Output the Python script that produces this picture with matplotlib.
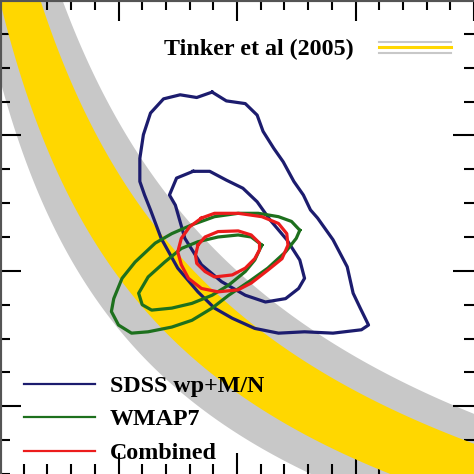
import numpy as np
import matplotlib.pyplot as plt
from matplotlib.ticker import MultipleLocator

# Tinker et al (2005): sigma8 (Om/0.3)^0.6 = 0.68 +/- 0.06 (1 sigma), 0.12 (2 sigma)
tinker_amp = 0.68
tinker_1sig = 0.06
tinker_2sig = 0.12
tinker_slope = 0.6
tinker_pivot = 0.3

# contour vertices (Omega_m, sigma_8)
sdss_outer_x = [0.279, 0.291, 0.307, 0.317, 0.322, 0.331, 0.339, 0.348, 0.356, 0.362,
                0.368, 0.381, 0.393, 0.398, 0.404, 0.411, 0.405, 0.381, 0.357, 0.335,
                0.315, 0.296, 0.281, 0.267, 0.250, 0.236, 0.227, 0.222, 0.218, 0.218,
                0.221, 0.227, 0.238, 0.252, 0.266]
sdss_outer_y = [1.064, 1.051, 1.047, 1.030, 1.006, 0.981, 0.961, 0.932, 0.912, 0.890,
                0.878, 0.846, 0.806, 0.767, 0.745, 0.720, 0.713, 0.708, 0.710, 0.708,
                0.715, 0.730, 0.745, 0.769, 0.804, 0.848, 0.890, 0.912, 0.932, 0.966,
                1.001, 1.033, 1.054, 1.060, 1.056]

sdss_inner_x = [0.263, 0.277, 0.291, 0.305, 0.317, 0.328, 0.342, 0.353, 0.357, 0.352,
                0.341, 0.324, 0.307, 0.287, 0.270, 0.256, 0.248, 0.243, 0.249]
sdss_inner_y = [0.947, 0.947, 0.934, 0.922, 0.902, 0.875, 0.846, 0.816, 0.789, 0.774,
                0.759, 0.754, 0.764, 0.784, 0.809, 0.848, 0.897, 0.912, 0.937]

wmap_outer_x = [0.353, 0.346, 0.335, 0.318, 0.301, 0.281, 0.262, 0.245, 0.231, 0.214,
                0.203, 0.196, 0.194, 0.200, 0.211, 0.225, 0.245, 0.262, 0.279, 0.293,
                0.310, 0.326, 0.341, 0.350]
wmap_outer_y = [0.860, 0.873, 0.880, 0.885, 0.885, 0.880, 0.868, 0.855, 0.841, 0.813,
                0.789, 0.759, 0.740, 0.720, 0.708, 0.710, 0.717, 0.727, 0.745, 0.764,
                0.784, 0.804, 0.828, 0.848]

wmap_inner_x = [0.321, 0.312, 0.301, 0.284, 0.267, 0.253, 0.239, 0.225, 0.217, 0.220,
                0.228, 0.245, 0.262, 0.279, 0.293, 0.307, 0.315, 0.319]
wmap_inner_y = [0.838, 0.850, 0.853, 0.850, 0.843, 0.833, 0.813, 0.791, 0.767, 0.750,
                0.742, 0.745, 0.752, 0.764, 0.779, 0.799, 0.816, 0.831]

comb_outer_x = [0.270, 0.281, 0.301, 0.321, 0.335, 0.342, 0.343, 0.338, 0.326, 0.312,
                0.301, 0.284, 0.270, 0.259, 0.253, 0.250, 0.253, 0.260]
comb_outer_y = [0.878, 0.885, 0.885, 0.880, 0.870, 0.855, 0.838, 0.818, 0.801, 0.782,
                0.772, 0.769, 0.774, 0.789, 0.809, 0.828, 0.848, 0.865]

comb_inner_x = [0.267, 0.273, 0.284, 0.301, 0.312, 0.319, 0.319, 0.315, 0.307, 0.296,
                0.281, 0.273, 0.266, 0.265]
comb_inner_y = [0.838, 0.850, 0.858, 0.859, 0.853, 0.841, 0.831, 0.818, 0.804, 0.794,
                0.791, 0.799, 0.811, 0.823]

labels = ['SDSS wp+M/N', 'WMAP7', 'Combined']
colors = ['#1c1c6e', '#1d701d', '#ec1c1c']

fig = plt.figure(figsize=(4.74, 4.74), dpi=100)
ax = fig.add_axes([0, 0, 1, 1])
ax.set_xlim(0.1, 0.5)
ax.set_ylim(0.5, 1.2)

# Tinker band
om = np.linspace(0.1, 0.5, 300)
scale = (om / tinker_pivot) ** (-tinker_slope)
ax.fill_between(om, (tinker_amp - tinker_2sig) * scale, (tinker_amp + tinker_2sig) * scale,
                color='#c8c8c8', lw=0, zorder=1)
ax.fill_between(om, (tinker_amp - tinker_1sig) * scale, (tinker_amp + tinker_1sig) * scale,
                color='#ffd700', lw=0, zorder=2)


def closed(xs, ys):
    return np.append(xs, xs[0]), np.append(ys, ys[0])


contours = [(sdss_outer_x, sdss_outer_y, 0), (sdss_inner_x, sdss_inner_y, 0),
            (wmap_outer_x, wmap_outer_y, 1), (wmap_inner_x, wmap_inner_y, 1),
            (comb_outer_x, comb_outer_y, 2), (comb_inner_x, comb_inner_y, 2)]
for xs, ys, k in contours:
    cx, cy = closed(xs, ys)
    ax.plot(cx, cy, color=colors[k], lw=2.3, solid_joinstyle='round', zorder=3 + k)

# legend, lower left
font = dict(family='Liberation Serif', weight='bold', size=17.3)
leg_y = [0.190, 0.120, 0.049]
for lab, c, yy in zip(labels, colors, leg_y):
    ax.plot([0.051, 0.200], [yy, yy], color=c, lw=1.6, transform=ax.transAxes, zorder=10)
    ax.text(0.232, yy, lab, transform=ax.transAxes, va='center_baseline', ha='left',
            zorder=10, **font)

# Tinker legend entry, top right
ax.text(0.745, 0.9, 'Tinker et al (2005)', transform=ax.transAxes, va='center_baseline',
        ha='right', zorder=10, **font)
ax.plot([0.800, 0.951], [0.911, 0.911], color='#c8c8c8', lw=1.5, transform=ax.transAxes)
ax.plot([0.800, 0.951], [0.889, 0.889], color='#c8c8c8', lw=1.5, transform=ax.transAxes)
ax.plot([0.800, 0.951], [0.900, 0.900], color='#ffd700', lw=2.2, transform=ax.transAxes)

# ticks and frame
ax.xaxis.set_major_locator(MultipleLocator(0.1))
ax.xaxis.set_minor_locator(MultipleLocator(0.02))
ax.yaxis.set_major_locator(MultipleLocator(0.2))
ax.yaxis.set_minor_locator(MultipleLocator(0.05))
ax.tick_params(which='both', direction='in', top=True, right=True,
               labelbottom=False, labelleft=False, width=1.5, color='black')
ax.tick_params(which='major', length=15)
ax.tick_params(which='minor', length=7.5)
for side in ['left', 'top']:
    ax.spines[side].set_linewidth(3)
    ax.spines[side].set_color('#555555')
for side in ['right', 'bottom']:
    ax.spines[side].set_visible(False)

fig.savefig('out.png', dpi=100)
